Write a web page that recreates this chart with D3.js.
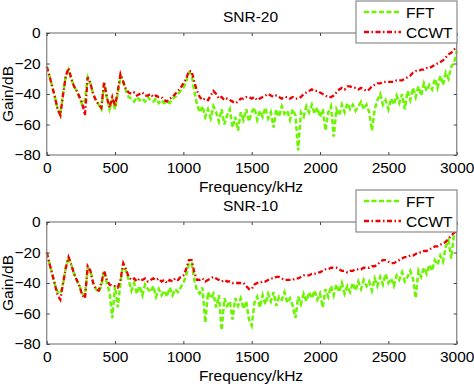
<!DOCTYPE html>
<html>
<head>
<meta charset='utf-8' />
<title></title>
<style>
  body{ margin:0; background:#fff; }
  text{ font-family: Arial, "Liberation Sans", Helvetica, sans-serif; fill:#000; }
</style>
</head>
<body>
<script src="https://d3js.org/d3.v7.min.js"></script>
<script>

// sampled every 20 kHz, 0..3000
let freqStep = 20

let fft20 = [
  -22,-28,-35,-42,-50,-53,-40,-28,-24,-30,
  -35,-38,-42,-47,-44,-29,-33,-40,-44,-47,
  -50,-33,-42,-50,-44,-50,-40,-28,-32,-38,
  -42,-43,-45,-42,-44,-43,-45,-42,-44,-45,
  -43,-46,-44,-46,-45,-46,-43,-42,-40,-38,
  -36,-32,-26,-27,-38,-47,-52,-48,-55,-50,
  -56,-48,-52,-58,-50,-60,-54,-50,-62,-55,
  -64,-52,-57,-50,-58,-52,-49,-57,-51,-55,
  -49,-56,-52,-62,-50,-55,-48,-53,-51,-57,
  -50,-54,-77,-52,-55,-48,-52,-47,-53,-49,
  -55,-50,-64,-52,-48,-68,-50,-54,-47,-52,
  -46,-50,-47,-51,-48,-45,-50,-47,-52,-64,
  -50,-44,-40,-47,-44,-50,-43,-47,-41,-46,
  -40,-50,-38,-44,-36,-42,-35,-41,-33,-38,
  -34,-37,-30,-36,-28,-34,-26,-30,-22,-20,
  -12
]
let ccwt20 = [
  -22,-28,-35,-42,-50,-54,-40,-28,-23,-30,
  -35,-38,-42,-46,-54,-29,-33,-40,-44,-47,
  -49,-32,-42,-49,-42,-48,-38,-27,-32,-37,
  -39,-40,-39,-41,-40,-39,-41,-41,-40,-42,
  -41,-42,-42,-44,-45,-43,-42,-40,-38,-36,
  -33,-30,-25,-25,-32,-38,-42,-44,-43,-44,
  -41,-38,-40,-43,-42,-44,-43,-44,-45,-46,
  -45,-43,-43,-42,-42,-43,-42,-44,-43,-42,
  -41,-40,-41,-42,-41,-42,-43,-42,-42,-43,
  -42,-43,-43,-42,-40,-39,-38,-37,-38,-38,
  -39,-40,-41,-42,-42,-41,-39,-37,-36,-37,
  -35,-35,-36,-36,-37,-36,-37,-38,-37,-35,
  -34,-33,-33,-32,-32,-32,-32,-32,-31,-31,
  -31,-30,-29,-28,-26,-25,-25,-24,-24,-23,
  -23,-22,-21,-20,-19,-18,-16,-14,-13,-11,
  -9
]
let fft10 = [
  -20,-27,-34,-41,-46,-47,-40,-30,-23,-28,
  -34,-38,-42,-47,-48,-30,-32,-40,-44,-46,
  -42,-32,-40,-46,-63,-42,-56,-40,-27,-32,
  -38,-45,-40,-47,-42,-48,-41,-44,-46,-42,
  -49,-44,-48,-45,-49,-43,-48,-44,-46,-43,
  -40,-35,-27,-27,-38,-45,-47,-43,-66,-46,
  -50,-47,-56,-48,-71,-50,-55,-52,-64,-50,
  -55,-50,-57,-52,-64,-68,-53,-49,-56,-48,
  -54,-47,-52,-46,-55,-49,-51,-46,-53,-50,
  -55,-63,-49,-54,-47,-52,-46,-50,-45,-51,
  -47,-56,-44,-49,-42,-48,-41,-46,-40,-47,
  -42,-46,-40,-45,-39,-44,-38,-42,-39,-45,
  -37,-42,-36,-41,-34,-40,-37,-42,-35,-38,
  -33,-39,-36,-32,-37,-50,-32,-36,-30,-34,
  -28,-32,-25,-28,-22,-26,-16,-12,-24,-8,
  -3
]
let ccwt10 = [
  -20,-27,-34,-41,-48,-51,-40,-30,-23,-28,
  -34,-38,-42,-48,-50,-29,-32,-40,-44,-45,
  -40,-32,-38,-41,-42,-42,-43,-38,-27,-31,
  -36,-38,-37,-39,-37,-38,-37,-39,-38,-37,
  -38,-37,-39,-38,-40,-38,-39,-37,-38,-36,
  -35,-31,-25,-25,-33,-38,-38,-37,-39,-38,
  -37,-36,-37,-38,-39,-38,-39,-39,-40,-40,
  -40,-40,-40,-42,-44,-44,-41,-40,-40,-39,
  -39,-38,-37,-37,-36,-36,-37,-38,-38,-38,
  -38,-37,-37,-36,-35,-35,-35,-34,-34,-33,
  -33,-32,-31,-31,-30,-30,-30,-31,-32,-32,
  -33,-32,-32,-31,-31,-31,-30,-30,-30,-29,
  -29,-28,-26,-25,-25,-26,-27,-27,-26,-25,
  -24,-23,-23,-22,-22,-21,-20,-20,-19,-19,
  -18,-17,-16,-16,-15,-14,-13,-11,-9,-7,
  -6
]

let xTicks = [0,500,1000,1500,2000,2500,3000]
let yTicks = [0,-20,-40,-60,-80]
let seriesNames = ['FFT','CCWT']
let panels = [
  {title:'SNR-20', fft:fft20, ccwt:ccwt20, top:33},
  {title:'SNR-10', fft:fft10, ccwt:ccwt10, top:222}
]

let width = 474, height = 384,
  left = 46.7, right = 456.7, ph = 122,
  axisColor = '#8a8a8a',
  green = '#6cf500', red = '#f00000',
  fs = '15.5px'

let svg = d3.select('body').append('svg').attr('width',width).attr('height',height)

let x = d3.scaleLinear().domain([0,3000]).range([left,right])

panels.forEach( p => {
  let y = d3.scaleLinear().domain([-80,0]).range([p.top+ph,p.top])
  let g = svg.append('g')

  let line = d3.line()
    .x((d,i) => x(i*freqStep))
    .y(d => y(d))

  g.append('path').datum(p.fft).attr('d',line)
    .attr('fill','none').attr('stroke',green).attr('stroke-width',2.5)
    .attr('stroke-dasharray','5,2.5')
  g.append('path').datum(p.ccwt).attr('d',line)
    .attr('fill','none').attr('stroke',red).attr('stroke-width',2.3)
    .attr('stroke-dasharray','5,2.5,1.5,2.5')

  // box
  g.append('rect').attr('x',left).attr('y',p.top).attr('width',right-left).attr('height',ph)
    .attr('fill','none').attr('stroke',axisColor).attr('stroke-width',1.3)

  // ticks, inward, on all four sides
  let axB = d3.axisBottom(x).tickValues(xTicks).tickSize(-3).tickPadding(7).tickFormat(d3.format('d'))
  let axT = d3.axisTop(x).tickValues(xTicks).tickSize(-3).tickFormat('')
  let axL = d3.axisLeft(y).tickValues(yTicks).tickSize(-3).tickPadding(6).tickFormat(d3.format('d'))
  let axR = d3.axisRight(y).tickValues(yTicks).tickSize(-3).tickFormat('')

  let gb = g.append('g').attr('transform','translate(0,'+(p.top+ph)+')').call(axB)
  let gt = g.append('g').attr('transform','translate(0,'+p.top+')').call(axT)
  let gl = g.append('g').attr('transform','translate('+left+',0)').call(axL)
  let gr = g.append('g').attr('transform','translate('+right+',0)').call(axR)
  ;[gb,gt,gl,gr].forEach(a => {
    a.select('.domain').remove()
    a.selectAll('line').attr('stroke','#444').attr('stroke-width',1)
    a.selectAll('text').style('font-size',fs).style('font-family','Arial, "Liberation Sans", sans-serif').attr('fill','#000')
  })

  g.append('text').text(p.title)
    .attr('x',250.5).attr('y',p.top-11).attr('text-anchor','middle').style('font-size',fs)

  g.append('text').text('Frequency/kHz')
    .attr('x',251).attr('y',p.top+ph+37).attr('text-anchor','middle').style('font-size',fs)

  g.append('text').text('Gain/dB')
    .attr('transform','translate(12.5,'+(p.top+ph/2)+') rotate(-90)')
    .attr('text-anchor','middle').style('font-size',fs)

  // legend
  let ly = p.top - 32
  let lg = g.append('g')
  lg.append('rect').attr('x',356).attr('y',ly).attr('width',101).attr('height',42)
    .attr('fill','#fff').attr('stroke',axisColor).attr('stroke-width',1.2)
  seriesNames.forEach((s,i) => {
    let yy = ly + 11 + i*20
    lg.append('line').attr('x1',364).attr('x2',401).attr('y1',yy).attr('y2',yy)
      .attr('stroke', i==0 ? green : red).attr('stroke-width',2.3)
      .attr('stroke-dasharray', i==0 ? '5,2.5' : '5,2.5,1.5,2.5')
    lg.append('text').text(s).attr('x',406).attr('y',yy+5.5).style('font-size',fs)
  })
})

</script>
</body>
</html>
